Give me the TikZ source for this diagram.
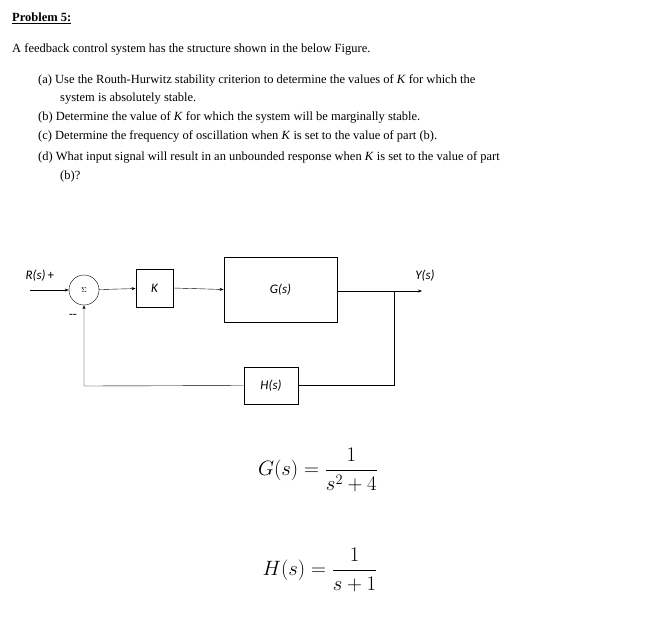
\documentclass[tikz,border=0pt]{standalone}
\usepackage{amsmath}
\usepackage{fontspec}
\setmainfont{Liberation Serif}
\newfontfamily\calfont{Carlito}
\usetikzlibrary{arrows.meta}
\begin{document}
\begin{tikzpicture}[x=1pt,y=-1pt,
  blk/.style={draw,thick,inner sep=0pt},
  lbl/.style={font=\calfont\itshape\fontsize{13}{15}\selectfont},
  txt/.style={anchor=west,inner sep=0pt,font=\fontsize{12.5}{14}\selectfont},
  arr/.style={-{Stealth[length=4pt,width=3pt]},thin}]
\useasboundingbox (0,0) rectangle (668,627);
\node[txt,font=\bfseries\fontsize{12.5}{14}\selectfont] (t) at (12,18) {\underline{Problem 5:}};
\node[txt] (l0) at (12,49) {A feedback control system has the structure shown in the below Figure.};
\node[txt] (a1) at (38,80) {(a) Use the Routh-Hurwitz stability criterion to determine the values of \textit{K} for which the};
\node[txt] (a2) at (60,99) {system is absolutely stable.};
\node[txt] (b) at (38,117) {(b) Determine the value of \textit{K} for which the system will be marginally stable.};
\node[txt] (c) at (38,136) {(c) Determine the frequency of oscillation when \textit{K} is set to the value of part (b).};
\node[txt] (d1) at (38,157) {(d) What input signal will result in an unbounded response when \textit{K} is set to the value of part};
\node[txt] (d2) at (60,176) {(b)?};
% diagram
\node[draw,thin,circle,minimum size=30pt,inner sep=0pt,font=\fontsize{7}{8}\selectfont] (sum) at (84,290) {$\Sigma$};
\node[blk,minimum width=37pt,minimum height=38pt,lbl] (K) at (154.5,288) {K};
\node[blk,minimum width=113pt,minimum height=65pt,lbl] (G) at (280.5,289.5) {G(s)};
\node[blk,minimum width=54pt,minimum height=37pt,lbl] (H) at (271,385.5) {H(s)};
\coordinate (in) at (30,290);
\coordinate (br) at (394,291);
\coordinate (out) at (422,291);
\coordinate (fb) at (84,386);
\draw[arr] (in) -- (sum);
\draw[arr] (sum) -- (K);
\draw[arr] (K.east) -- (G.west);
\draw[arr] (G.east|-br) -- (out);
\draw[thin] (br) |- (H.east);
\draw[arr] (H.west) -- (fb) -- (sum.south);
\node[lbl,anchor=west] (R) at (22,276) {R(s)\,\upshape +};
\node[lbl] (m) at (73,316) {\upshape --};
\node[lbl] (Y) at (425,276) {Y(s)};
% equations
\node (eqG) at (318,470) {\fontsize{20}{24}\selectfont $G(s)=\dfrac{1}{s^2+4}$};
\node (eqH) at (320,570) {\fontsize{20}{24}\selectfont $H(s)=\dfrac{1}{s+1}$};
\end{tikzpicture}
\end{document}
